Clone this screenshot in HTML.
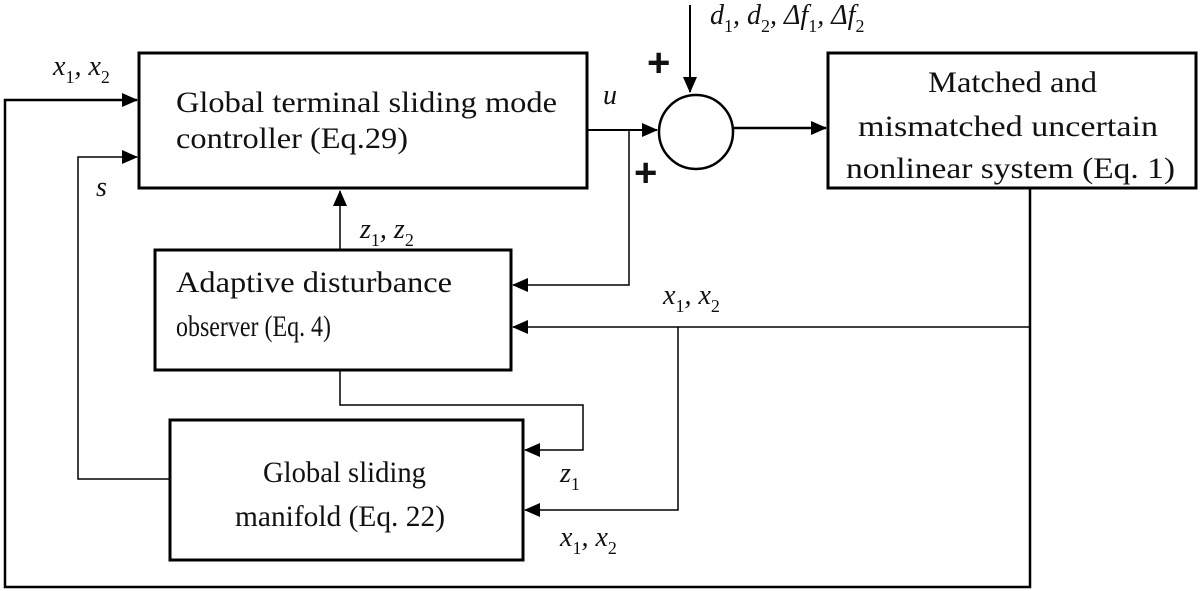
<!DOCTYPE html>
<html><head><meta charset="utf-8"><style>
html,body{margin:0;padding:0;background:#fff}
svg{display:block}
text{font-family:"Liberation Serif",serif;fill:#111}
.b{font-size:30px}
.i{font-size:28px;font-style:italic}
.s{font-size:18px;font-style:normal}
</style></head><body>
<svg width="1200" height="591" viewBox="0 0 1200 591" xmlns="http://www.w3.org/2000/svg">
<defs><marker id="a2" markerWidth="16" markerHeight="14" refX="15" refY="7" orient="auto" markerUnits="userSpaceOnUse"><path d="M0,0 L16,7 L0,14 z" fill="#000"/></marker></defs>
<g fill="none" stroke="#000">
<rect x="139" y="53" width="448" height="135" stroke-width="3"/>
<rect x="155" y="250" width="356" height="120" stroke-width="3"/>
<rect x="170" y="420" width="353" height="140" stroke-width="3"/>
<rect x="828" y="53" width="368" height="135" stroke-width="3"/>
<circle cx="696" cy="132" r="37" stroke-width="2.5"/>
<polyline points="1030,188 1030,587 5,587 5,100 137,100" stroke-width="2.5" marker-end="url(#a2)"/>
<polyline points="170,479 78,479 78,157 137,157" stroke-width="1.5" marker-end="url(#a2)"/>
<line x1="340" y1="250" x2="340" y2="191" stroke-width="1.5" marker-end="url(#a2)"/>
<line x1="587" y1="130" x2="657" y2="130" stroke-width="2" marker-end="url(#a2)"/>
<polyline points="629,130 629,285 513,285" stroke-width="1.5" marker-end="url(#a2)"/>
<line x1="690" y1="5" x2="690" y2="92" stroke-width="2" marker-end="url(#a2)"/>
<line x1="734" y1="128" x2="826" y2="128" stroke-width="2.5" marker-end="url(#a2)"/>
<line x1="1030" y1="327" x2="513" y2="327" stroke-width="1.5" marker-end="url(#a2)"/>
<polyline points="678,327 678,510 525,510" stroke-width="1.5" marker-end="url(#a2)"/>
<polyline points="340,370 340,405 583,405 583,450 525,450" stroke-width="1.5" marker-end="url(#a2)"/>
</g>
<text class="b" x="176" y="112" textLength="381" lengthAdjust="spacingAndGlyphs">Global terminal sliding mode</text>
<text class="b" x="176" y="148" textLength="232" lengthAdjust="spacingAndGlyphs">controller (Eq.29)</text>
<text class="b" x="176" y="292" textLength="276" lengthAdjust="spacingAndGlyphs">Adaptive disturbance</text>
<text class="b" x="176" y="336" textLength="155" lengthAdjust="spacingAndGlyphs">observer (Eq. 4)</text>
<text class="b" x="263" y="482" textLength="163" lengthAdjust="spacingAndGlyphs">Global sliding</text>
<text class="b" x="235" y="526" textLength="210" lengthAdjust="spacingAndGlyphs">manifold (Eq. 22)</text>
<text class="b" x="928" y="92" textLength="169" lengthAdjust="spacingAndGlyphs">Matched and</text>
<text class="b" x="858" y="136" textLength="300" lengthAdjust="spacingAndGlyphs">mismatched uncertain</text>
<text class="b" x="846" y="178" textLength="329" lengthAdjust="spacingAndGlyphs">nonlinear system (Eq. 1)</text>
<text class="i" x="53" y="75">x<tspan class="s" dy="8">1</tspan><tspan dy="-8">, x</tspan><tspan class="s" dy="8">2</tspan></text>
<text class="i" x="603" y="104">u</text>
<text class="i" x="96" y="196">s</text>
<text class="i" x="360" y="238">z<tspan class="s" dy="8">1</tspan><tspan dy="-8">, z</tspan><tspan class="s" dy="8">2</tspan></text>
<text class="i" x="663" y="304">x<tspan class="s" dy="8">1</tspan><tspan dy="-8">, x</tspan><tspan class="s" dy="8">2</tspan></text>
<text class="i" x="560" y="482">z<tspan class="s" dy="8">1</tspan></text>
<text class="i" x="560" y="546">x<tspan class="s" dy="8">1</tspan><tspan dy="-8">, x</tspan><tspan class="s" dy="8">2</tspan></text>
<text class="i" x="710" y="24">d<tspan class="s" dy="8">1</tspan><tspan dy="-8">, d</tspan><tspan class="s" dy="8">2</tspan><tspan dy="-8">, Δf</tspan><tspan class="s" dy="8">1</tspan><tspan dy="-8">, Δf</tspan><tspan class="s" dy="8">2</tspan></text>
<text x="647" y="76" style="font-family:'Liberation Sans',sans-serif;font-size:40px;font-weight:bold">+</text>
<text x="634" y="186" style="font-family:'Liberation Sans',sans-serif;font-size:40px;font-weight:bold">+</text>
</svg>
</body></html>
